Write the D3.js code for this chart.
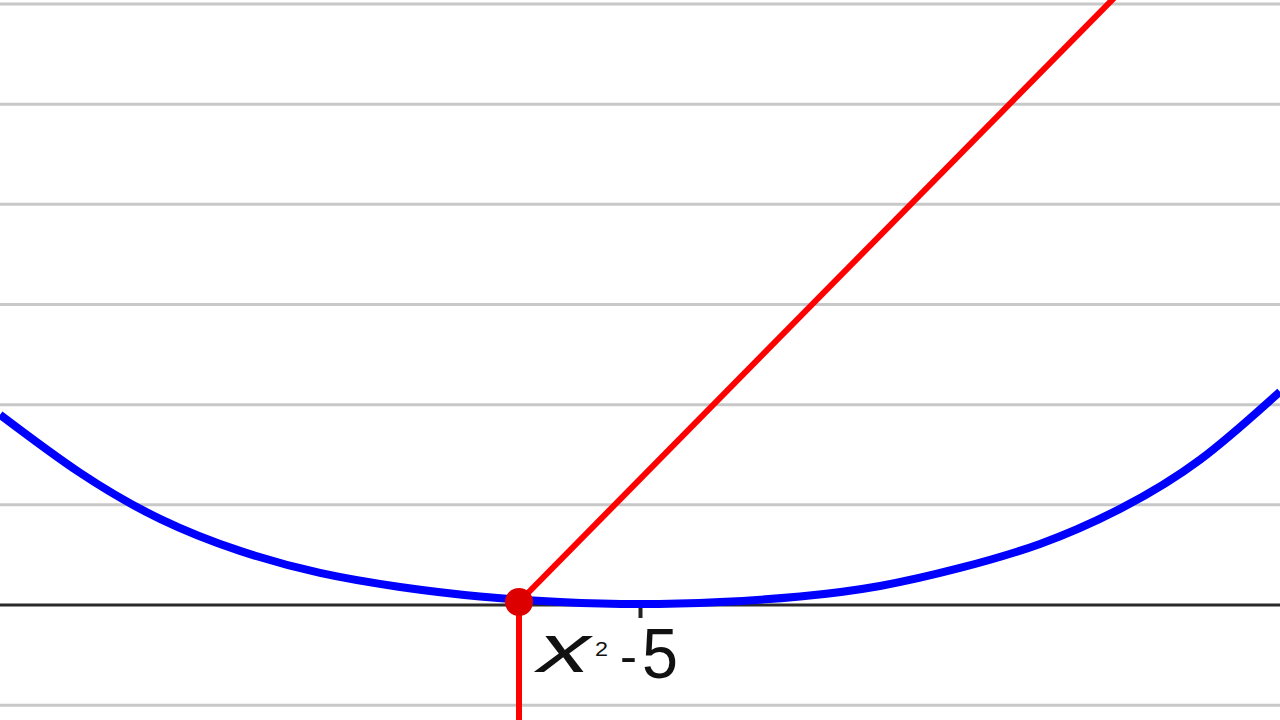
<!DOCTYPE html>
<html>
    <head>
        <meta charset="utf-8">
        <title>x²-5</title>
        <script type="text/javascript" src="https://cdn.jsdelivr.net/npm/d3@7"></script>
        <style>
            body{margin:0;background:#fff;overflow:hidden;}
        </style>
    </head>
    <body>
        <script type="text/javascript">
            // grid values (y), axis at 0
            var gridY=[-1,1,2,3,4,5,6];
            var axisTicks=[0];

            // blue curve, every 0.8
            var curveX=[-6.4,-5.6,-4.8,-4.0,-3.2,-2.4,-1.6,-0.8,0,0.8,1.6,2.4,3.2,4.0,4.8,5.6,6.4];
            var curveY=[1.90,1.32,0.86,0.54,0.32,0.18,0.085,0.03,0.01,0.03,0.085,0.19,0.37,0.61,0.96,1.45,2.13];

            // red tangent line and the point
            var tangentX=[-1.21,4.76];
            var tangentY=[0.03,6.08];
            var pointX=-1.21, pointY=0.03;
            var dropY=-1.3;

            var w=1280;
            var h=720;

            var svg=d3.select("body")
                    .append("svg")
                    .attr("width",w)
                    .attr("height",h);

            var xScale=d3.scaleLinear()
                        .domain([-6.4,6.4])
                        .range([0,w]);

            var yScale=d3.scaleLinear()
                        .domain([0,6])
                        .range([605,4]);

            // gray grid lines
            svg.selectAll(".grid")
                .data(gridY)
                .enter()
                .append("line")
                .attr("x1",0)
                .attr("x2",w)
                .attr("y1",function(d){return yScale(d);})
                .attr("y2",function(d){return yScale(d);})
                .attr("stroke","#c8c8c8")
                .attr("stroke-width",3);

            // x axis with one tick
            var xAxis=d3.axisBottom(xScale)
                        .tickValues(axisTicks)
                        .tickSize(13)
                        .tickFormat("");

            var gx=svg.append("g")
                .attr("transform","translate(0,"+yScale(0)+")")
                .call(xAxis);
            gx.select(".domain").remove();
            gx.selectAll(".tick line")
                .attr("stroke","#222")
                .attr("stroke-width",4);

            svg.append("line")
                .attr("x1",0)
                .attr("x2",w)
                .attr("y1",yScale(0))
                .attr("y2",yScale(0))
                .attr("stroke","#2a2a2a")
                .attr("stroke-width",3);

            // blue curve
            var pts=curveX.map(function(x,i){return {x:x,y:curveY[i]};});
            var line=d3.line()
                .x(function(d){return xScale(d.x);})
                .y(function(d){return yScale(d.y);})
                .curve(d3.curveNatural);

            svg.append("path")
                .attr("d",line(pts))
                .attr("fill","none")
                .attr("stroke","#0000ff")
                .attr("stroke-width",8);

            // red tangent
            var tpts=tangentX.map(function(x,i){return {x:x,y:tangentY[i]};});
            svg.append("path")
                .attr("d",d3.line().x(function(d){return xScale(d.x);}).y(function(d){return yScale(d.y);})(tpts))
                .attr("fill","none")
                .attr("stroke","#ff0000")
                .attr("stroke-width",6);

            // red drop line
            svg.append("line")
                .attr("x1",xScale(pointX))
                .attr("x2",xScale(pointX))
                .attr("y1",yScale(pointY))
                .attr("y2",yScale(dropY))
                .attr("stroke","#ff0000")
                .attr("stroke-width",6);

            svg.append("circle")
                .attr("cx",xScale(pointX))
                .attr("cy",yScale(pointY))
                .attr("r",14)
                .attr("fill","#dd0000");

            // label under the tick, one piece at a time
            var lx=xScale(axisTicks[0]);
            var ly=yScale(0);
            var parts=[
                {t:"x",dx:-102,dy:67,size:68,len:52,italic:true},
                {t:"2",dx:-45,dy:51,size:20,len:13,italic:false},
                {t:"-",dx:-20,dy:68,size:50,len:17,italic:false},
                {t:"5",dx:2,dy:73,size:71,len:36,italic:false}
            ];
            svg.selectAll(".lbl")
                .data(parts)
                .enter()
                .append("text")
                .text(function(d){return d.t;})
                .attr("x",function(d){return lx+d.dx;})
                .attr("y",function(d){return ly+d.dy;})
                .attr("font-size",function(d){return d.size+"px";})
                .attr("font-style",function(d){return d.italic?"italic":"normal";})
                .attr("textLength",function(d){return d.len;})
                .attr("lengthAdjust","spacingAndGlyphs")
                .attr("font-family","Liberation Sans, Arial, sans-serif")
                .attr("fill","#111");
        </script>
    </body>
</html>
